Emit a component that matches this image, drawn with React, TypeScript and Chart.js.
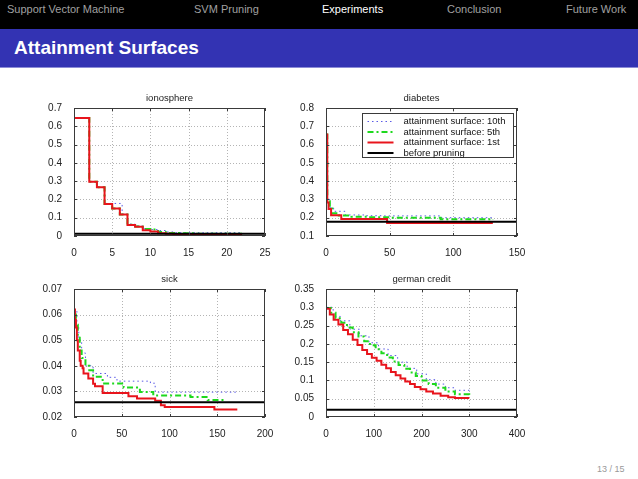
import React, { useEffect, useRef } from "react";
import { Chart, registerables } from "chart.js";
Chart.register(...registerables);

const FONT = '"Liberation Sans", Arial, Helvetica, sans-serif';

const tabs = ["Support Vector Machine", "SVM Pruning", "Experiments", "Conclusion", "Future Work"];
const tabLeft = [7, 194, 322, 447, 566];
const activeTab = 2;
const slideTitle = "Attainment Surfaces";
const pageLabel = "13 / 15";

const legendLabels = [
  "attainment surface: 10th",
  "attainment surface: 5th",
  "attainment surface: 1st",
  "before pruning",
];

// ionosphere
const ionoX10 = [0, 2, 3, 4, 6.3, 7, 8, 9, 10, 11, 12, 13, 22];
const ionoY10 = [0.645, 0.297, 0.266, 0.178, 0.12, 0.065, 0.055, 0.04, 0.035, 0.03, 0.022, 0.018, 0.018];
const ionoX5 = [0, 2, 3, 4, 5, 6, 7, 8, 9, 10, 11, 12, 14, 16, 22];
const ionoY5 = [0.645, 0.297, 0.266, 0.175, 0.15, 0.117, 0.062, 0.052, 0.038, 0.035, 0.022, 0.016, 0.015, 0.012, 0.012];
const ionoX1 = [0, 2, 3, 4, 5, 6, 7, 8, 9, 10, 11, 12, 13, 15, 22];
const ionoY1 = [0.645, 0.297, 0.266, 0.175, 0.15, 0.117, 0.06, 0.05, 0.032, 0.025, 0.015, 0.012, 0.009, 0.005, 0.005];
const ionoBase = 0.012;

// diabetes
const diabX10 = [0, 1, 3, 6, 15, 30, 45, 90, 131];
const diabY10 = [0.655, 0.3, 0.255, 0.235, 0.215, 0.211, 0.21, 0.2, 0.195];
const diabX5 = [0, 1, 3, 5, 10, 20, 32, 50, 90, 131];
const diabY5 = [0.655, 0.29, 0.25, 0.225, 0.212, 0.205, 0.202, 0.2, 0.192, 0.188];
const diabX1 = [0, 1, 2, 4, 12, 48, 131];
const diabY1 = [0.655, 0.283, 0.247, 0.214, 0.193, 0.171, 0.171];
const diabBase = 0.178;

// sick
const sickX10 = [0, 3, 5, 8, 12, 20, 35, 45, 80, 85, 172];
const sickY10 = [0.062, 0.055, 0.05, 0.045, 0.04, 0.037, 0.0355, 0.034, 0.0332, 0.0297, 0.0297];
const sickX5 = [0, 2, 4, 6, 8, 12, 16, 20, 30, 52, 69, 83, 122, 140, 157];
const sickY5 = [0.06, 0.056, 0.051, 0.046, 0.043, 0.04, 0.0383, 0.0357, 0.0331, 0.0315, 0.0298, 0.0284, 0.0278, 0.0266, 0.0266];
const sickX1 = [0, 1, 2, 3, 4, 6, 7, 9, 10, 15, 20, 22, 30, 57, 66, 85, 91, 95, 147, 171];
const sickY1 = [0.062, 0.058, 0.055, 0.05, 0.046, 0.042, 0.04, 0.039, 0.037, 0.035, 0.033, 0.032, 0.0294, 0.0281, 0.0272, 0.0263, 0.0246, 0.0239, 0.0229, 0.0229];
const sickBase = 0.0258;

// german credit
const gerX10 = [0, 15, 30, 50, 70, 90, 110, 130, 150, 170, 190, 210, 230, 250, 270, 300];
const gerY10 = [0.3, 0.275, 0.263, 0.24, 0.222, 0.203, 0.186, 0.168, 0.15, 0.133, 0.118, 0.102, 0.09, 0.08, 0.073, 0.065];
const gerX5 = [0, 10, 20, 32, 44, 56, 68, 80, 92, 104, 116, 128, 140, 152, 164, 176, 188, 200, 215, 230, 250, 270, 300];
const gerY5 = [0.298, 0.285, 0.27, 0.258, 0.245, 0.232, 0.22, 0.207, 0.196, 0.185, 0.174, 0.163, 0.152, 0.142, 0.132, 0.122, 0.112, 0.1, 0.09, 0.08, 0.07, 0.062, 0.057];
const gerX1 = [0, 8, 16, 26, 36, 46, 56, 66, 76, 86, 96, 106, 116, 126, 136, 146, 156, 166, 176, 186, 198, 210, 224, 240, 256, 270, 300];
const gerY1 = [0.296, 0.28, 0.266, 0.253, 0.238, 0.226, 0.211, 0.197, 0.183, 0.172, 0.162, 0.154, 0.143, 0.133, 0.123, 0.114, 0.105, 0.097, 0.09, 0.082, 0.076, 0.07, 0.064, 0.058, 0.054, 0.052, 0.052];
const gerBase = 0.02;

type Series = { x10: number[]; y10: number[]; x5: number[]; y5: number[]; x1: number[]; y1: number[]; base: number };
type PanelCfg = {
  title: string;
  plot: [number, number, number, number]; // left, top, right, bottom on page
  xMin: number; xMax: number; xStep: number;
  yMin: number; yMax: number; yStep: number;
  series: Series;
  legend: boolean;
};

const panels: PanelCfg[] = [
  { title: "ionosphere", plot: [74, 108, 265, 236], xMin: 0, xMax: 25, xStep: 5, yMin: 0, yMax: 0.7, yStep: 0.1,
    series: { x10: ionoX10, y10: ionoY10, x5: ionoX5, y5: ionoY5, x1: ionoX1, y1: ionoY1, base: ionoBase }, legend: false },
  { title: "diabetes", plot: [326, 108, 517, 236], xMin: 0, xMax: 150, xStep: 50, yMin: 0.1, yMax: 0.8, yStep: 0.1,
    series: { x10: diabX10, y10: diabY10, x5: diabX5, y5: diabY5, x1: diabX1, y1: diabY1, base: diabBase }, legend: true },
  { title: "sick", plot: [74, 289, 265, 417], xMin: 0, xMax: 200, xStep: 50, yMin: 0.02, yMax: 0.07, yStep: 0.01,
    series: { x10: sickX10, y10: sickY10, x5: sickX5, y5: sickY5, x1: sickX1, y1: sickY1, base: sickBase }, legend: false },
  { title: "german credit", plot: [326, 289, 517, 417], xMin: 0, xMax: 400, xStep: 100, yMin: 0, yMax: 0.35, yStep: 0.05,
    series: { x10: gerX10, y10: gerY10, x5: gerX5, y5: gerY5, x1: gerX1, y1: gerY1, base: gerBase }, legend: false },
];

const styles = [
  { color: "#5a5ae6", width: 1, dash: [1.5, 3] },
  { color: "#1ed81e", width: 2, dash: [6, 3, 2, 3] },
  { color: "#e8141c", width: 2, dash: [] as number[] },
  { color: "#000000", width: 2, dash: [] as number[] },
];

const pts = (xs: number[], ys: number[]) => xs.map((x, i) => ({ x, y: ys[i] }));
const fmt = (v: any) => String(Number(Number(v).toFixed(4)));

const PADL = 50, PADT = 24, PADR = 16, PADB = 20;

function Panel({ cfg }: { cfg: PanelCfg }) {
  const ref = useRef<HTMLCanvasElement>(null);
  const [L, T, R, B] = cfg.plot;
  const W = R - L + PADL + PADR;
  const H = B - T + PADT + PADB;
  useEffect(() => {
    const s = cfg.series;
    const deco = {
      id: "deco",
      beforeDatasetsDraw(chart: any) {
        const { ctx, chartArea: a, scales } = chart;
        ctx.save();
        ctx.strokeStyle = "#b4b4b4";
        ctx.lineWidth = 1;
        ctx.setLineDash([1, 2]);
        scales.x.ticks.forEach((t: any) => {
          const px = Math.round(scales.x.getPixelForValue(t.value)) + 0.5;
          if (px <= a.left + 1 || px >= a.right - 1) return;
          ctx.beginPath(); ctx.moveTo(px, a.top); ctx.lineTo(px, a.bottom); ctx.stroke();
        });
        scales.y.ticks.forEach((t: any) => {
          const py = Math.round(scales.y.getPixelForValue(t.value)) + 0.5;
          if (py <= a.top + 1 || py >= a.bottom - 1) return;
          ctx.beginPath(); ctx.moveTo(a.left, py); ctx.lineTo(a.right, py); ctx.stroke();
        });
        ctx.restore();
      },
      afterDraw(chart: any) {
        const { ctx, chartArea: a, scales } = chart;
        ctx.save();
        ctx.strokeStyle = "#3a3a3a";
        ctx.lineWidth = 1;
        ctx.setLineDash([]);
        scales.x.ticks.forEach((t: any) => {
          const px = Math.round(scales.x.getPixelForValue(t.value)) + 0.5;
          ctx.beginPath(); ctx.moveTo(px, a.bottom); ctx.lineTo(px, a.bottom - 3);
          ctx.moveTo(px, a.top); ctx.lineTo(px, a.top + 3); ctx.stroke();
        });
        scales.y.ticks.forEach((t: any) => {
          const py = Math.round(scales.y.getPixelForValue(t.value)) + 0.5;
          ctx.beginPath(); ctx.moveTo(a.left, py); ctx.lineTo(a.left + 3, py);
          ctx.moveTo(a.right, py); ctx.lineTo(a.right - 3, py); ctx.stroke();
        });
        ctx.strokeRect(Math.round(a.left) + 0.5, Math.round(a.top) + 0.5, Math.round(a.width) - 1, Math.round(a.height) - 1);
        ctx.fillStyle = "#222";
        ctx.font = `9.5px ${FONT}`;
        ctx.textAlign = "center";
        ctx.textBaseline = "middle";
        ctx.fillText(cfg.title, (a.left + a.right) / 2, a.top - 10);
        if (cfg.legend) {
          const bw = 151, bh = 44;
          const bx = Math.round(a.right - 155) + 0.5;
          const by = Math.round(a.top + 5) + 0.5;
          ctx.fillStyle = "#fff";
          ctx.fillRect(bx, by, bw, bh);
          ctx.strokeStyle = "#3a3a3a";
          ctx.lineWidth = 1;
          ctx.strokeRect(bx, by, bw, bh);
          const rows = [8, 18.5, 29, 39.5];
          legendLabels.forEach((lab, i) => {
            const st = styles[i];
            const y = by + rows[i];
            ctx.strokeStyle = st.color;
            ctx.lineWidth = st.width;
            ctx.setLineDash(st.dash);
            ctx.beginPath(); ctx.moveTo(bx + 5, y); ctx.lineTo(bx + 31, y); ctx.stroke();
            ctx.setLineDash([]);
            ctx.fillStyle = "#111";
            ctx.font = `9.5px ${FONT}`;
            ctx.textAlign = "left";
            ctx.textBaseline = "middle";
            ctx.fillText(lab, bx + 41, y);
          });
        }
        ctx.restore();
      },
    };
    const mk = (i: number, data: any, stepped: any, order: number) => ({
      label: legendLabels[i],
      data,
      borderColor: styles[i].color,
      borderWidth: styles[i].width,
      borderDash: styles[i].dash,
      stepped,
      order,
      fill: false,
      pointRadius: 0,
    });
    const chart = new Chart(ref.current as HTMLCanvasElement, {
      type: "line",
      data: {
        datasets: [
          mk(3, pts([cfg.xMin, cfg.xMax], [s.base, s.base]), false, 0),
          mk(2, pts(s.x1, s.y1), "before", 1),
          mk(1, pts(s.x5, s.y5), "before", 2),
          mk(0, pts(s.x10, s.y10), "before", 3),
        ] as any,
      },
      options: {
        animation: false,
        responsive: false,
        layout: { padding: { top: PADT, right: PADR, left: 0, bottom: 0 } },
        elements: { point: { radius: 0 }, line: { tension: 0 } },
        plugins: { legend: { display: false }, tooltip: { enabled: false }, title: { display: false } },
        scales: {
          x: {
            type: "linear", min: cfg.xMin, max: cfg.xMax,
            grid: { display: false }, border: { display: false },
            ticks: { stepSize: cfg.xStep, color: "#222", font: { size: 10, family: FONT }, padding: 3, maxRotation: 0, autoSkip: false, callback: fmt },
            afterFit: (sc: any) => { sc.height = PADB; },
          },
          y: {
            type: "linear", min: cfg.yMin, max: cfg.yMax,
            grid: { display: false }, border: { display: false },
            ticks: { stepSize: cfg.yStep, color: "#222", font: { size: 10, family: FONT }, padding: 4, autoSkip: false, callback: fmt },
            afterFit: (sc: any) => { sc.width = PADL; },
          },
        },
      } as any,
      plugins: [deco],
    });
    return () => chart.destroy();
  }, []);
  return (
    <canvas
      ref={ref}
      width={W}
      height={H}
      style={{ position: "absolute", left: L - PADL, top: T - PADT, width: W, height: H }}
    />
  );
}

export default function App() {
  return (
    <div style={{ position: "fixed", left: 0, top: 0, width: 638, height: 479, background: "#fff", overflow: "hidden", fontFamily: FONT }}>
      <div style={{ position: "absolute", left: 0, top: 0, width: 638, height: 29, background: "#000" }} />
      {tabs.map((t, i) => (
        <div key={t} style={{ position: "absolute", left: tabLeft[i], top: 3, fontSize: 11, lineHeight: "13px", color: i === activeTab ? "#fff" : "#a0a0a0", whiteSpace: "nowrap" }}>{t}</div>
      ))}
      <div style={{ position: "absolute", left: 0, top: 29, width: 638, height: 38, background: "#3333b3", borderBottom: "1px solid #8c8cd6" }} />
      <div style={{ position: "absolute", left: 14, top: 37, fontSize: 19, lineHeight: "22px", fontWeight: "bold", color: "#fff", whiteSpace: "nowrap" }}>{slideTitle}</div>
      {panels.map((p) => <Panel key={p.title} cfg={p} />)}
      <div style={{ position: "absolute", left: 597, top: 464, fontSize: 9, lineHeight: "11px", color: "#999", whiteSpace: "nowrap" }}>{pageLabel}</div>
    </div>
  );
}
